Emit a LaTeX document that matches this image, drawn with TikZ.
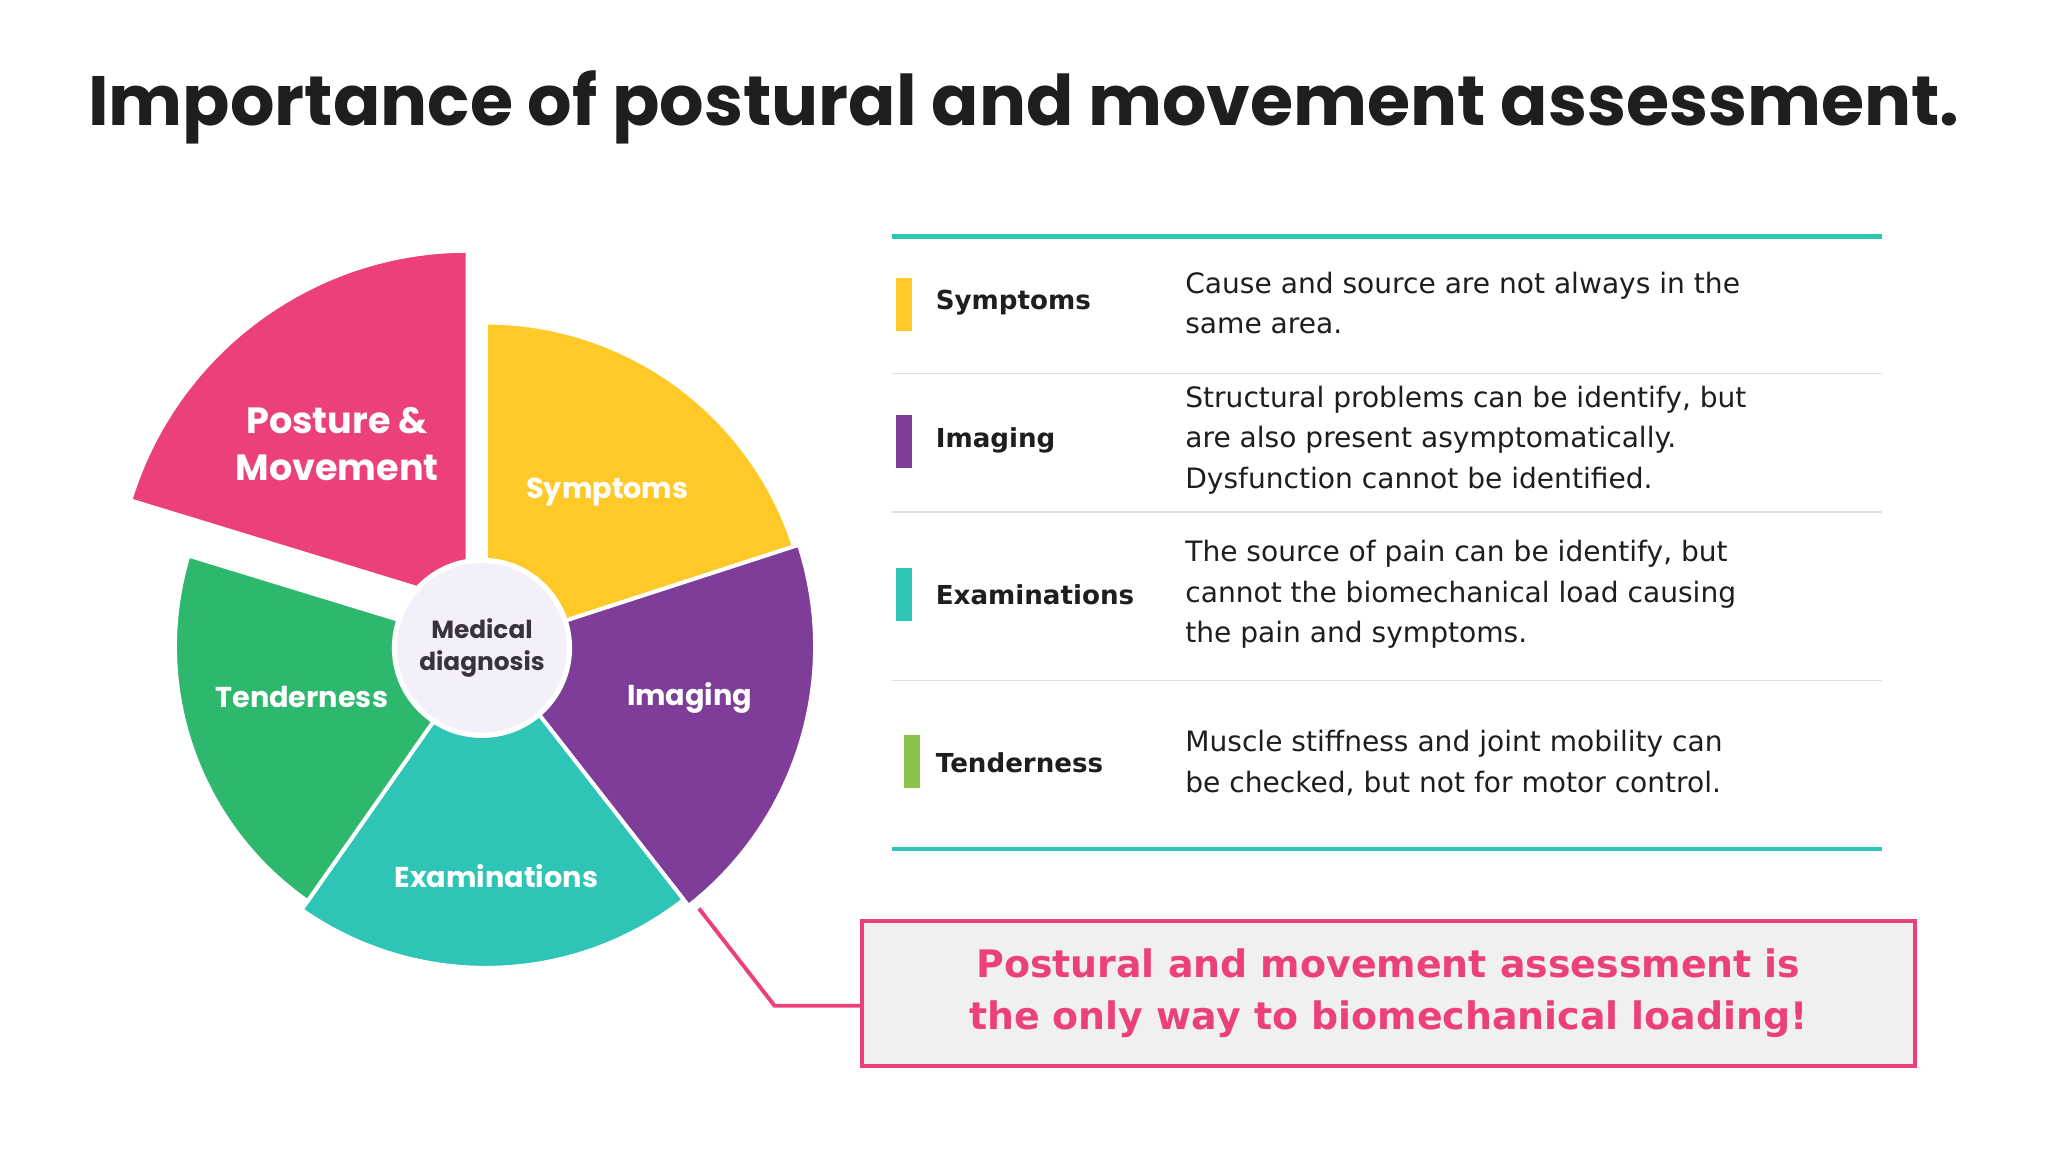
\documentclass[tikz,border=0pt]{standalone}
\usepackage{fontspec}
\usetikzlibrary{calc}
\setmainfont{DejaVu Sans}
\newfontfamily\pop{Poppins}
\definecolor{cpink}{HTML}{EC407A}
\definecolor{cyel}{HTML}{FFC928}
\definecolor{cpur}{HTML}{7E3D98}
\definecolor{cteal}{HTML}{2EC4B6}
\definecolor{cgreen}{HTML}{2DB86E}
\definecolor{clgreen}{HTML}{8BC34A}
\definecolor{ctxt}{HTML}{1E1E1E}
\begin{document}
\begin{tikzpicture}[x=1pt,y=-1pt,
  slice/.style={draw=white,line width=3pt,line join=round},
  plabel/.style={text=white,font=\pop\bfseries\fontsize{22}{26}\selectfont,align=center},
  tlabel/.style={anchor=west,text=ctxt,font=\bfseries\fontsize{20}{25}\selectfont},
  tdesc/.style={anchor=west,text=ctxt,font=\fontsize{21.5}{31}\selectfont,align=left},
  bar/.style={minimum width=12pt,minimum height=41pt,inner sep=0pt}]
\useasboundingbox (0,0) rectangle (1568,882);
\fill[white] (0,0) rectangle (1568,882);
\node[font=\pop\bfseries\fontsize{53.5}{60}\selectfont,text=ctxt] (title) at (784,82) {Importance of postural and movement assessment.};
% pie
\coordinate (c) at (372,495);
\fill[cyel,slice] (c) -- ++(-90:248) arc[start angle=-90,end angle=-18,radius=248] -- cycle;
\fill[cpur,slice] (c) -- ++(-18:252) arc[start angle=-18,end angle=52,radius=252] -- cycle;
\fill[cteal,slice] (c) -- ++(52:246) arc[start angle=52,end angle=125,radius=246] -- cycle;
\fill[cgreen,slice] (c) -- ++(125:238) arc[start angle=125,end angle=197,radius=238] -- cycle;
\coordinate (c2) at (358,462);
\fill[cpink,slice] (c2) -- ++(-90:270) arc[start angle=-90,end angle=-163,radius=270] -- cycle;
\coordinate (imgcorner) at ($(c)+(52:252)+(8,2)$);
\node[circle,fill={rgb,255:red,244;green,240;blue,250},draw=white,line width=4pt,minimum size=134pt] (md) at (369,496) {};
\node[font=\pop\bfseries\fontsize{19}{24}\selectfont,text={rgb,255:red,60;green,50;blue,60},align=center] at (md) {Medical\\diagnosis};
\node[plabel,font=\pop\bfseries\fontsize{28}{36}\selectfont] (pm) at (258,340) {Posture \&\\Movement};
\node[plabel] (sy) at (465,377) {Symptoms};
\node[plabel] (im) at (528,534) {Imaging};
\node[plabel] (te) at (231,534) {Tenderness};
\node[plabel] (ex) at (380,671) {Examinations};
% table
\draw[cteal,line width=3.5pt] (683,181) -- (1441,181);
\draw[cteal,line width=3.5pt] (683,650) -- (1441,650);
\foreach \yy in {286,392,521} \draw[gray!25,line width=0.8pt] (683,\yy) -- (1441,\yy);
\node[bar,fill=cyel] (b1) at (692,233) {};
\node[bar,fill=cpur] (b2) at (692,338) {};
\node[bar,fill=cteal] (b3) at (692,455) {};
\node[bar,fill=clgreen] (b4) at (698,583) {};
\node[tlabel] (l1) at (713,232) {Symptoms};
\node[tlabel] (l2) at (713,337) {Imaging};
\node[tlabel] (l3) at (713,455) {Examinations};
\node[tlabel] (l4) at (713,584) {Tenderness};
\node[tdesc] (d1) at (904,232) {Cause and source are not always in the\\same area.};
\node[tdesc] (d2) at (904,337) {Structural problems can be identify, but\\are also present asymptomatically.\\Dysfunction cannot be identified.};
\node[tdesc] (d3) at (904,455) {The source of pain can be identify, but\\cannot the biomechanical load causing\\the pain and symptoms.};
\node[tdesc] (d4) at (904,584) {Muscle stiffness and joint mobility can\\be checked, but not for motor control.};
% callout
\node[draw=cpink,line width=3.5pt,fill={rgb,255:red,240;green,240;blue,243},minimum width=806pt,minimum height=111pt,inner sep=0pt,text=cpink,font=\bfseries\fontsize{29}{40}\selectfont,align=center] (box) at (1063,760.5) {Postural and movement assessment is\\the only way to biomechanical loading!};
\coordinate (bend) at (593,770);
\draw[cpink,line width=3pt] (imgcorner) -- (bend) -- (box.west|-bend);
\end{tikzpicture}
\end{document}
